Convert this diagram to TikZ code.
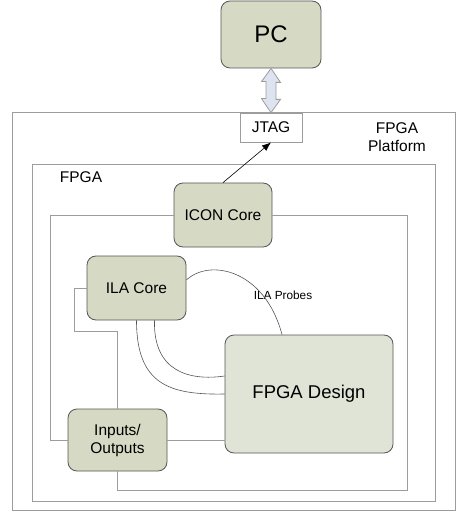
\documentclass[tikz,border=0pt]{standalone}
\usepackage{fontspec}
\setmainfont{Liberation Sans}
\usepackage{xcolor}
\usepackage{tikz}
\usetikzlibrary{arrows.meta}

\definecolor{corefill}{HTML}{D6D9C3}
\definecolor{designfill}{HTML}{DFE4D6}
\definecolor{linkfill}{HTML}{DDE4F0}
\definecolor{framegray}{HTML}{9C9C9C}
\definecolor{edgegray}{HTML}{555555}

\begin{document}
\begin{tikzpicture}[x=1pt, y=-1pt,
        core/.style={rectangle, rounded corners=9pt, draw=edgegray, line width=0.8pt, fill=corefill, align=center, font=\fontsize{15.5}{18}\selectfont},
        frame/.style={rectangle, draw=framegray, line width=1pt},
        wire/.style={draw=framegray, line width=0.9pt},
        link/.style={draw=edgegray, line width=0.6pt},
        arrow/.style={-{Latex[length=9pt,width=7pt]}, line width=0.6pt}
    ]
        \useasboundingbox (0,0) rectangle (474,518);

        % Containers
        \node[frame, minimum width=443pt, minimum height=397pt] (platform) at (233.5,311.5) {};
        \node[frame, minimum width=403pt, minimum height=336pt] (fpga) at (233.5,333) {};
        \node[font=\fontsize{15.5}{18}\selectfont, align=center] (platform-lbl) at (397,137) {FPGA\\Platform};
        \node[font=\fontsize{15.5}{18}\selectfont] (fpga-lbl) at (81,177) {FPGA};

        % PC and JTAG
        \node[core, minimum width=100pt, minimum height=67pt, font=\fontsize{24}{28}\selectfont] (pc) at (271,34.5) {PC};
        \node[rectangle, draw=framegray, line width=0.8pt, fill=white, minimum width=62pt, minimum height=29pt, font=\fontsize{15.5}{18}\selectfont] (jtag) at (271,127.5) {JTAG};

        % Cores
        \node[core, minimum width=98pt, minimum height=64pt] (icon) at (223,215) {ICON Core};
        \node[core, minimum width=99pt, minimum height=64pt] (ila) at (136.5,288) {ILA Core};
        \node[core, minimum width=99pt, minimum height=62pt] (io) at (117.5,440) {Inputs/\\Outputs};
        \node[core, fill=designfill, minimum width=168pt, minimum height=118pt, font=\fontsize{18.5}{22}\selectfont] (design) at (309,394) {FPGA Design};
        \node[font=\fontsize{11.8}{14}\selectfont] (probes) at (283,295) {ILA Probes};

        % Wires between cores
        \draw[wire] (icon.east) -| (407,490) -| (io.south);
        \draw[wire] (icon.west) -| (50,440) -- (io.west);
        \draw[wire] (ila.west) -- ++(-12,0) |- (117.5,331) -- (io.north);
        \draw[wire] (io.east) -- (design.west |- io.east);

        % ILA probes and trigger lines
        \draw[link] ([yshift=8pt]ila.east) .. controls (210,258) and (265,270) .. ([xshift=-27pt]design.north);
        \draw[link] (ila.south) .. controls (136.5,385) and (170,395) .. (design.west);
        \draw[link] ([xshift=18pt]ila.south) .. controls (153,372) and (190,381) .. ([yshift=18pt]design.west);

        % JTAG links
        \draw[arrow] (icon.north) -- (jtag.south);
        \draw[draw=framegray, line width=0.8pt, fill=linkfill] (pc.south) -- ++(9.5,14) -- ++(-4.5,0) -- ++(0,17) -- ++(4.5,0) -- (jtag.north) -- ++(-9.5,-14) -- ++(4.5,0) -- ++(0,-17) -- ++(-4.5,0) -- cycle;
    \end{tikzpicture}
\end{document}
